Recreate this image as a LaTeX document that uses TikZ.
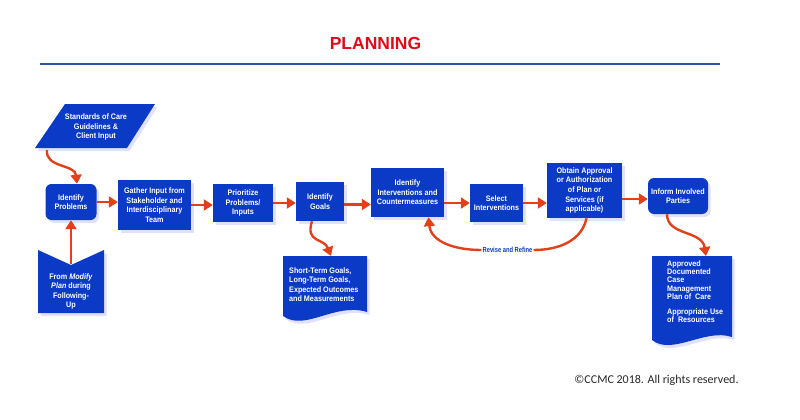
\documentclass[tikz,border=0pt]{standalone}
\usepackage{fontspec}
\setmainfont{Liberation Sans}
\newfontfamily\boxfam{Liberation Sans}[FakeStretch=0.9]
\newfontfamily\narrowfam{Liberation Sans}[FakeStretch=0.78]
\newfontfamily\copyfam{Carlito}
\usetikzlibrary{arrows.meta,shadows,calc}
\definecolor{boxblue}{HTML}{0B3BC6}
\definecolor{arrred}{HTML}{E2401B}
\definecolor{titlered}{HTML}{E30A17}
\definecolor{ruleblue}{HTML}{2E55A4}
\begin{document}
\begin{tikzpicture}[x=1pt,y=-1pt,
  shadowed/.style={drop shadow={shadow xshift=2.5pt,shadow yshift=-3pt,opacity=0.3,fill=blue!40}},
  boxtext/.style={text=white,font=\boxfam\fontsize{8}{9.6}\selectfont\bfseries,align=center,inner sep=1pt},
  boxstyle/.style={boxtext,fill=boxblue,shadowed},
  roundbox/.style={boxstyle,rounded corners=6pt},
  flow/.style={draw=arrred,line width=2.4pt,-{Triangle[length=9pt,width=11pt]}},
  flowline/.style={draw=arrred,line width=2.4pt}]
\useasboundingbox (0,0) rectangle (800,420);
% title and rule
\node[font=\fontsize{17.5}{20}\selectfont\bfseries,text=titlered] (title) at (375.5,43.5) {PLANNING};
\draw[ruleblue,line width=2pt] (40,64) -- (720,64);
% parallelogram
\fill[boxblue,shadowed] (65,104) -- (155,104) -- (127,148) -- (35,148) -- cycle;
\node[boxtext] (std) at (96,127) {Standards of Care\\Guidelines \&\\Client Input};
\coordinate (stdout) at (47,150);
% main boxes
\node[roundbox,minimum width=51pt,minimum height=36pt] (prob) at (71,202) {Identify\\Problems};
\node[boxstyle,minimum width=73pt,minimum height=50pt] (gather) at (154.5,205) {Gather Input from\\Stakeholder and\\Interdisciplinary\\Team};
\node[boxstyle,minimum width=60pt,minimum height=38pt] (prior) at (243,203) {Prioritize\\Problems/\\Inputs};
\node[boxstyle,minimum width=48pt,minimum height=39pt] (goals) at (320,201.5) {Identify\\Goals};
\node[boxstyle,minimum width=73pt,minimum height=49pt] (interv) at (407.5,192.5) {Identify\\Interventions and\\Countermeasures};
\node[boxstyle,minimum width=53pt,minimum height=38pt] (select) at (496.5,203) {Select\\Interventions};
\node[boxstyle,minimum width=75pt,minimum height=55pt] (obtain) at (584.5,190.5) {Obtain Approval\\or Authorization\\of Plan or\\Services (if\\applicable)};
\node[roundbox,minimum width=60pt,minimum height=36pt] (inform) at (678,196) {Inform Involved\\Parties};
% from modify shape
\fill[boxblue,shadowed] (38,250) -- (71,265) -- (104,250) -- (104,313) -- (38,313) -- cycle;
\node[boxtext] (modify) at (71,291.5) {From \textit{Modify}\\\textit{Plan} during\\Following-\\Up};
\coordinate (modtop) at (71,264);
% document 1
\fill[boxblue,shadowed] (283,256) -- (367,256) -- (367,312) .. controls (335,302) and (305,332) .. (283,316) -- cycle;
\node[boxtext,align=left,anchor=north west] (doc1) at (288,266) {Short-Term Goals,\\Long-Term Goals,\\Expected Outcomes\\and Measurements};
\coordinate (doc1top) at (331,256);
% document 2
\fill[boxblue,shadowed] (652,256) -- (732,256) -- (732,337) .. controls (705,328) and (672,356) .. (652,340) -- cycle;
\node[boxtext,align=left,anchor=north west,font=\boxfam\fontsize{8}{8.4}\selectfont\bfseries] (doc2) at (666,259) {Approved\\Documented\\Case\\Management\\Plan of~~Care\\[6pt]Appropriate Use\\of~~Resources};
\coordinate (doc2top) at (706,256);
% connectors
\draw[flow] (stdout) .. controls (45,168) and (75,164) .. ($(prob.north)+(6,0)$);
\draw[flow] (modtop) -- (prob.south);
\draw[flow] (prob.east) -- (prob.east -| gather.west);
\draw[flow] (gather.east) -- (gather.east -| prior.west);
\draw[flow] (prior.east) -- (prior.east -| goals.west);
\draw[flow] ($(goals.east)+(0,3)$) -- ($(goals.east -| interv.west)+(0,3)$);
\draw[flow] (select.west -| interv.east) -- (select.west);
\draw[flow] (select.east) -- (select.east -| obtain.west);
\draw[flow] ($(obtain.east |- inform.west)+(0,3)$) -- ($(inform.west)+(0,3)$);
\draw[flow] ($(goals.south)+(-8,0)$) .. controls (305,243) and (324,238) .. (doc1top);
\draw[flow] ($(inform.south)+(-11,0)$) .. controls (667,236) and (702,230) .. (doc2top);
% revise and refine
\node[font=\narrowfam\fontsize{7.4}{8}\selectfont\bfseries,text=boxblue,inner sep=1pt] (rev) at (507.5,250) {Revise and Refine};
\draw[flowline] ($(obtain.south)+(2,0)$) .. controls (582,240) and (560,250) .. (rev.east);
\draw[flow] (rev.west) .. controls (455,250) and (431,242) .. ($(interv.south)+(21,0)$);
% copyright
\node[font=\copyfam\fontsize{12}{14}\selectfont,text=black!85] (copy) at (656.5,380) {©CCMC 2018. All rights reserved.};
\end{tikzpicture}
\end{document}
